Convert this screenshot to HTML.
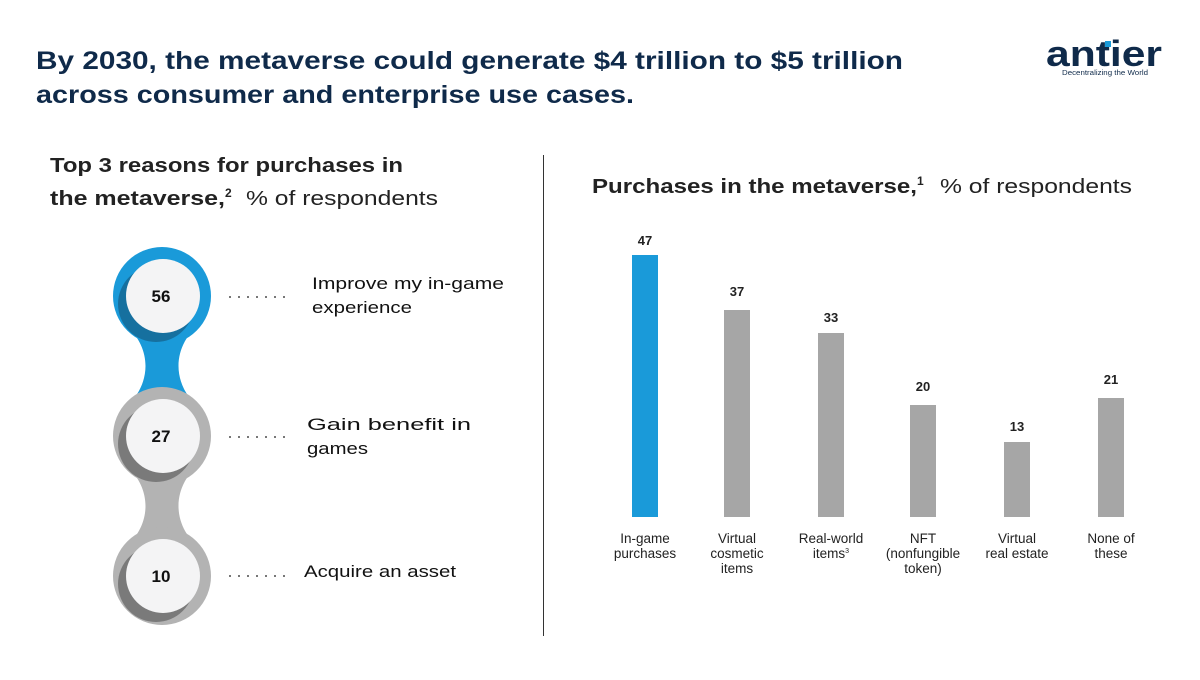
<!DOCTYPE html>
<html><head><meta charset="utf-8"><style>
body{margin:0;background:#fff;}
svg{display:block;font-family:"Liberation Sans",sans-serif;}
</style></head><body>
<svg width="1200" height="680" viewBox="0 0 1200 680">
<text x="36" y="69" font-size="25" font-weight="bold" fill="#0f2a4a" textLength="867" lengthAdjust="spacingAndGlyphs">By 2030, the metaverse could generate $4 trillion to $5 trillion</text>
<text x="36" y="103" font-size="25" font-weight="bold" fill="#0f2a4a" textLength="598" lengthAdjust="spacingAndGlyphs">across consumer and enterprise use cases.</text>
<!-- logo -->
<text x="1046" y="66" font-size="36" font-weight="bold" fill="#0f2a4a" textLength="116" lengthAdjust="spacingAndGlyphs">antier</text>
<rect x="1105" y="41" width="6" height="6" fill="#1a9ad9"/>
<text x="1062" y="75" font-size="7" fill="#0f2a4a" textLength="86" lengthAdjust="spacingAndGlyphs">Decentralizing the World</text>

<text x="50" y="172" font-size="20" font-weight="bold" fill="#222" textLength="353" lengthAdjust="spacingAndGlyphs">Top 3 reasons for purchases in</text>
<text x="50" y="205" font-size="20" fill="#222"><tspan font-weight="bold" textLength="175" lengthAdjust="spacingAndGlyphs">the metaverse,</tspan><tspan font-weight="bold" font-size="12" dy="-8">2</tspan><tspan dy="8" x="246" textLength="192" lengthAdjust="spacingAndGlyphs">% of respondents</tspan></text>

<line x1="543.5" y1="155" x2="543.5" y2="636" stroke="#333" stroke-width="1"/>

<!-- left graphic -->
<path d="M120,320 C154,345 154,387 120,412 L204,412 C170,387 170,345 204,320 Z" fill="#1a9ad9"/>
<path d="M120,460 C154,485 154,527 120,552 L204,552 C170,527 170,485 204,460 Z" fill="#b3b3b3"/>
<circle cx="162" cy="296" r="49" fill="#1a9ad9"/>
<circle cx="162" cy="436" r="49" fill="#b3b3b3"/>
<circle cx="162" cy="576" r="49" fill="#b3b3b3"/>
<circle cx="156" cy="304" r="38" fill="#16709f"/>
<circle cx="156" cy="444" r="38" fill="#7a7a7a"/>
<circle cx="156" cy="584" r="38" fill="#7a7a7a"/>
<circle cx="163" cy="296" r="37" fill="#f4f4f5"/>
<circle cx="163" cy="436" r="37" fill="#f4f4f5"/>
<circle cx="163" cy="576" r="37" fill="#f4f4f5"/>
<g font-size="17" font-weight="bold" fill="#111" text-anchor="middle">
<text x="161" y="302">56</text><text x="161" y="442">27</text><text x="161" y="582">10</text>
</g>
<g stroke="#777" stroke-width="2" stroke-dasharray="2,7">
<line x1="229" y1="297" x2="292" y2="297"/><line x1="229" y1="437" x2="292" y2="437"/><line x1="229" y1="576" x2="292" y2="576"/>
</g>
<g font-size="17" fill="#111" lengthAdjust="spacingAndGlyphs">
<text x="312" y="289" textLength="192" lengthAdjust="spacingAndGlyphs">Improve my in-game</text><text x="312" y="313" textLength="100" lengthAdjust="spacingAndGlyphs">experience</text>
<text x="307" y="430" textLength="164" lengthAdjust="spacingAndGlyphs">Gain benefit in</text><text x="307" y="454" textLength="61" lengthAdjust="spacingAndGlyphs">games</text>
<text x="304" y="577" textLength="152" lengthAdjust="spacingAndGlyphs">Acquire an asset</text>
</g>

<!-- right chart -->
<text x="592" y="193" font-size="20" fill="#222"><tspan font-weight="bold" textLength="325" lengthAdjust="spacingAndGlyphs">Purchases in the metaverse,</tspan><tspan font-weight="bold" font-size="12" dy="-8">1</tspan><tspan dy="8" x="940" textLength="192" lengthAdjust="spacingAndGlyphs">% of respondents</tspan></text>
<rect x="632" y="255" width="26" height="262" fill="#1a9ad9"/>
<rect x="724" y="310" width="26" height="207" fill="#a6a6a6"/>
<rect x="818" y="333" width="26" height="184" fill="#a6a6a6"/>
<rect x="910" y="405" width="26" height="112" fill="#a6a6a6"/>
<rect x="1004" y="442" width="26" height="75" fill="#a6a6a6"/>
<rect x="1098" y="398" width="26" height="119" fill="#a6a6a6"/>
<g font-size="13" font-weight="bold" fill="#222" text-anchor="middle">
<text x="645" y="245">47</text><text x="737" y="296">37</text><text x="831" y="322">33</text>
<text x="923" y="391">20</text><text x="1017" y="431">13</text><text x="1111" y="384">21</text>
</g>
<g font-size="13.5" fill="#222" text-anchor="middle">
<text x="645" y="543">In-game</text><text x="645" y="558">purchases</text>
<text x="737" y="543">Virtual</text><text x="737" y="558">cosmetic</text><text x="737" y="573">items</text>
<text x="831" y="543">Real-world</text><text x="831" y="558">items<tspan font-size="7" dy="-5">3</tspan></text>
<text x="923" y="543">NFT</text><text x="923" y="558">(nonfungible</text><text x="923" y="573">token)</text>
<text x="1017" y="543">Virtual</text><text x="1017" y="558">real estate</text>
<text x="1111" y="543">None of</text><text x="1111" y="558">these</text>
</g>
</svg>
</body></html>
